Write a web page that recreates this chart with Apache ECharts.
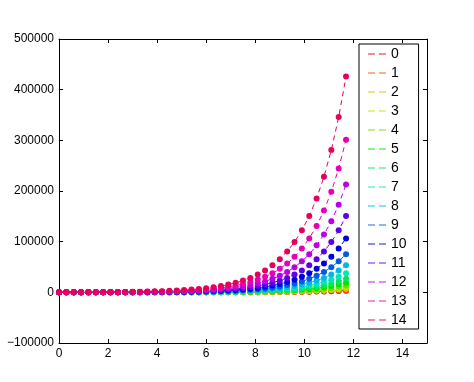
<!DOCTYPE html>
<html>
<head>
<meta charset="utf-8">
<script src="https://cdn.jsdelivr.net/npm/echarts@6/dist/echarts.min.js"></script>
<style>
  html, body { margin: 0; padding: 0; background: #fff; }
  #chart { width: 474px; height: 382px; }
</style>
</head>
<body>
<div id="chart"></div>
<script>
// x positions of the markers
const xs = [0, 0.3, 0.6, 0.9, 1.2, 1.5, 1.8, 2.1, 2.4, 2.7, 3, 3.3, 3.6, 3.9, 4.2, 4.5, 4.8, 5.1, 5.4, 5.7,
  6, 6.3, 6.6, 6.9, 7.2, 7.5, 7.8, 8.1, 8.4, 8.7, 9, 9.3, 9.6, 9.9, 10.2, 10.5, 10.8, 11.1, 11.4, 11.7];

// series values
const s0 = [1, 1.2, 1.5, 1.9, 2.3, 2.8, 3.5, 4.3, 5.3, 6.5, 8, 9.8, 12, 15, 18, 23, 28, 34, 42, 52,
  64, 79, 97, 119, 147, 181, 223, 274, 338, 416, 512, 630, 776, 955, 1176, 1448, 1783, 2195, 2702, 3327];
const s1 = [1.4, 1.7, 2.1, 2.6, 3.2, 4, 4.9, 6.1, 7.5, 9.2, 11, 14, 17, 21, 26, 32, 39, 49, 60, 74,
  91, 111, 137, 169, 208, 256, 315, 388, 478, 588, 724, 891, 1097, 1351, 1663, 2048, 2521, 3104, 3822, 4705];
const s2 = [2, 2.5, 3, 3.7, 4.6, 5.7, 7, 8.6, 11, 13, 16, 20, 24, 30, 37, 45, 56, 69, 84, 104,
  128, 158, 194, 239, 294, 362, 446, 549, 676, 832, 1024, 1261, 1552, 1911, 2353, 2896, 3566, 4390, 5405, 6654];
const s3 = [2.8, 3.5, 4.3, 5.3, 6.5, 8, 9.8, 12, 15, 18, 23, 28, 34, 42, 52, 64, 79, 97, 119, 147,
  181, 223, 274, 338, 416, 512, 630, 776, 955, 1176, 1448, 1783, 2195, 2702, 3327, 4096, 5042, 6208, 7644, 9410];
const s4 = [4, 4.9, 6.1, 7.5, 9.2, 11, 14, 17, 21, 26, 32, 39, 49, 60, 74, 91, 111, 137, 169, 208,
  256, 315, 388, 478, 588, 724, 891, 1097, 1351, 1663, 2048, 2521, 3104, 3822, 4705, 5793, 7132, 8780, 10810, 13308];
const s5 = [5.7, 7, 8.6, 11, 13, 16, 20, 24, 30, 37, 45, 56, 69, 84, 104, 128, 158, 194, 239, 294,
  362, 446, 549, 676, 832, 1024, 1261, 1552, 1911, 2353, 2896, 3566, 4390, 5405, 6654, 8192, 10085, 12417, 15287, 18820];
const s6 = [8, 9.8, 12, 15, 18, 23, 28, 34, 42, 52, 64, 79, 97, 119, 147, 181, 223, 274, 338, 416,
  512, 630, 776, 955, 1176, 1448, 1783, 2195, 2702, 3327, 4096, 5042, 6208, 7644, 9410, 11585, 14263, 17561, 21619, 26616];
const s7 = [11, 14, 17, 21, 26, 32, 39, 49, 60, 74, 91, 111, 137, 169, 208, 256, 315, 388, 478, 588,
  724, 891, 1097, 1351, 1663, 2048, 2521, 3104, 3822, 4705, 5793, 7132, 8780, 10810, 13308, 16384, 20170, 24833, 30574, 37640];
const s8 = [16, 20, 24, 30, 37, 45, 56, 69, 84, 104, 128, 158, 194, 239, 294, 362, 446, 549, 676, 832,
  1024, 1261, 1552, 1911, 2353, 2896, 3566, 4390, 5405, 6654, 8192, 10085, 12417, 15287, 18820, 23170, 28526, 35123, 43238, 53232];
const s9 = [23, 28, 34, 42, 52, 64, 79, 97, 119, 147, 181, 223, 274, 338, 416, 512, 630, 776, 955, 1176,
  1448, 1783, 2195, 2702, 3327, 4096, 5042, 6208, 7644, 9410, 11585, 14263, 17561, 21619, 26616, 32768, 40336, 49667, 61150, 75280];
const s10 = [32, 39, 49, 60, 74, 91, 111, 137, 169, 208, 256, 315, 388, 478, 588, 724, 891, 1097, 1351, 1663,
  2048, 2521, 3104, 3822, 4705, 5793, 7132, 8780, 10810, 13308, 16384, 20170, 24833, 30574, 37640, 46341, 57053, 70246, 86477, 106464];
const s11 = [45, 56, 69, 84, 104, 128, 158, 194, 239, 294, 362, 446, 549, 676, 832, 1024, 1261, 1552, 1911, 2353,
  2896, 3566, 4390, 5405, 6654, 8192, 10085, 12417, 15287, 18820, 23170, 28526, 35123, 43238, 53232, 65536, 80672, 99334, 122300, 150560];
const s12 = [64, 79, 97, 119, 147, 181, 223, 274, 338, 416, 512, 630, 776, 955, 1176, 1448, 1783, 2195, 2702, 3327,
  4096, 5042, 6208, 7644, 9410, 11585, 14263, 17561, 21619, 26616, 32768, 40336, 49667, 61150, 75280, 92682, 114106, 140493, 172954, 212928];
const s13 = [91, 111, 137, 169, 208, 256, 315, 388, 478, 588, 724, 891, 1097, 1351, 1663, 2048, 2521, 3104, 3822, 4705,
  5793, 7132, 8780, 10810, 13308, 16384, 20170, 24833, 30574, 37640, 46341, 57053, 70246, 86477, 106464, 131072, 161344, 198669, 244600, 301120];
const s14 = [128, 158, 194, 239, 294, 362, 446, 549, 676, 832, 1024, 1261, 1552, 1911, 2353, 2896, 3566, 4390, 5405, 6654,
  8192, 10085, 12417, 15287, 18820, 23170, 28526, 35123, 43238, 53232, 65536, 80672, 99334, 122300, 150560, 185364, 228213, 280986, 345907, 425856];

const names = ['0', '1', '2', '3', '4', '5', '6', '7', '8', '9', '10', '11', '12', '13', '14'];
const allSeries = [s0, s1, s2, s3, s4, s5, s6, s7, s8, s9, s10, s11, s12, s13, s14];
const colors = ['#e60000', '#e65c00', '#e6b800', '#b8e600', '#5ce600', '#00e600', '#00e65c', '#00e6b8',
  '#00b8e6', '#005ce6', '#0000e6', '#5c00e6', '#b800e6', '#e600b8', '#e6005c'];

const xTicks = { min: 0, max: 15, interval: 2 };
const yTicks = { min: -100000, max: 500000, interval: 100000 };

const font = 'Liberation Sans';
const chart = echarts.init(document.getElementById('chart'), null, { renderer: 'canvas' });

// frame on all four sides, ticks pointing inwards
const axisCommon = {
  axisLine: { show: true, onZero: false, lineStyle: { color: '#000', width: 1 } },
  axisTick: { show: true, inside: true, length: 4, lineStyle: { color: '#000' } },
  splitLine: { show: false }
};

const fmtY = v => (v < 0 ? '\u2212' + (-v) : String(v));

chart.setOption({
  animation: false,
  backgroundColor: '#fff',
  color: colors,
  grid: { left: 59, top: 39, width: 368, height: 304, containLabel: false },
  xAxis: [
    Object.assign({
      type: 'value', position: 'bottom', min: xTicks.min, max: xTicks.max, interval: xTicks.interval,
      axisLabel: {
        color: '#000', fontSize: 12, fontFamily: font, margin: 5,
        formatter: v => (v % 2 === 0 ? String(v) : '')
      }
    }, axisCommon),
    Object.assign({
      type: 'value', position: 'top', min: xTicks.min, max: xTicks.max, interval: xTicks.interval,
      axisLabel: { show: false }
    }, axisCommon)
  ],
  yAxis: [
    Object.assign({
      type: 'value', position: 'left', min: yTicks.min, max: yTicks.max, interval: yTicks.interval,
      axisLabel: { color: '#000', fontSize: 12, fontFamily: font, margin: 5, formatter: fmtY }
    }, axisCommon),
    Object.assign({
      type: 'value', position: 'right', min: yTicks.min, max: yTicks.max, interval: yTicks.interval,
      axisLabel: { show: false }
    }, axisCommon)
  ],
  legend: {
    orient: 'vertical',
    left: 359,
    top: 44,
    data: names,
    icon: 'path://M0,0h7v2h-7z M11,0h7v2h-7z',
    itemWidth: 18,
    itemHeight: 2,
    itemGap: 5,
    itemTextGap: 14,
    padding: [3, 12, 2, 9],
    borderColor: '#000',
    borderWidth: 1,
    borderRadius: 0,
    backgroundColor: '#fff',
    itemStyle: { opacity: 0.45 },
    textStyle: { color: '#000', fontSize: 14, fontFamily: font, lineHeight: 14 }
  },
  series: allSeries.map((vals, i) => ({
    name: names[i],
    type: 'line',
    xAxisIndex: 0,
    yAxisIndex: 0,
    data: vals.map((v, k) => [xs[k], v]),
    symbol: 'circle',
    symbolSize: 6,
    showAllSymbol: true,
    lineStyle: { width: 1, type: [5, 4], color: colors[i] },
    itemStyle: { color: colors[i] },
    emphasis: { disabled: true },
    z: 2 + i
  }))
});
</script>
</body>
</html>
